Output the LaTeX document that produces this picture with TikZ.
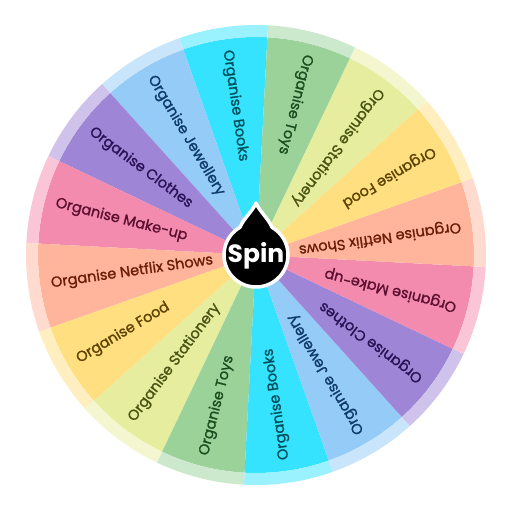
\documentclass[tikz,border=0pt]{standalone}
\usepackage{fontspec}
\setmainfont{Poppins}
\newfontfamily\labfont{Poppins}[FakeBold=1.3]
\definecolor{cBooks}{HTML}{35E3FF}
\definecolor{cJew}{HTML}{94CBF7}
\definecolor{cClo}{HTML}{9E85D6}
\definecolor{cMak}{HTML}{F38BAF}
\definecolor{cNet}{HTML}{FFB59C}
\definecolor{cFood}{HTML}{FFDF80}
\definecolor{cSta}{HTML}{E6ED9F}
\definecolor{cToy}{HTML}{9AD29A}
\definecolor{tBooks}{HTML}{00505C}
\definecolor{tJew}{HTML}{0D3A66}
\definecolor{tClo}{HTML}{2B1256}
\definecolor{tMak}{HTML}{5C0F2E}
\definecolor{tNet}{HTML}{6B1D05}
\definecolor{tFood}{HTML}{5C4300}
\definecolor{tSta}{HTML}{4A5310}
\definecolor{tToy}{HTML}{1B4D1E}
\tikzset{
  label/.style={anchor=mid west, inner sep=0pt, font=\labfont\fontsize{14.5}{17}\selectfont},
  spintext/.style={text=white, font=\fontsize{25}{30}\selectfont\bfseries}
}
\begin{document}
\begin{tikzpicture}[x=1pt,y=1pt]
\useasboundingbox (0,0) rectangle (512,512);
\begin{scope}[shift={(256,257)}]
\foreach \k/\name/\c in {0/Books/Books,1/Jewellery/Jew,2/Clothes/Clo,3/Make-up/Mak,4/Netflix Shows/Net,5/Food/Food,6/Stationery/Sta,7/Toys/Toy,8/Books/Books,9/Jewellery/Jew,10/Clothes/Clo,11/Make-up/Mak,12/Netflix Shows/Net,13/Food/Food,14/Stationery/Sta,15/Toys/Toy}{
  \pgfmathsetmacro{\a}{87+22.5*\k}
  \pgfmathsetmacro{\b}{\a+22.5}
  \pgfmathsetmacro{\m}{\a+11.25}
  \pgfmathsetmacro{\r}{\m+180}
  \fill[c\c] (0,0) -- (\a:218pt) arc[start angle=\a, end angle=\b, radius=218pt] -- cycle;
  \fill[c\c!50!white] (\a:218pt) arc[start angle=\a, end angle=\b, radius=218pt] -- (\b:230pt) arc[start angle=\b, end angle=\a, radius=230pt] -- cycle;
  \node[label, text=t\c, rotate=\r] (l\k) at (\m:207pt) {Organise \name};
}
\draw[white, line width=3.5pt, fill=black, line join=round]
  (0,52) .. controls (-4,43) and (-12,37) .. (120:32pt)
  arc[start angle=120, end angle=420, radius=32pt]
  .. controls (12,37) and (4,43) .. (0,52) -- cycle;
\node[spintext] (spin) at (0,-1) {Spin};
\end{scope}
\end{tikzpicture}
\end{document}
